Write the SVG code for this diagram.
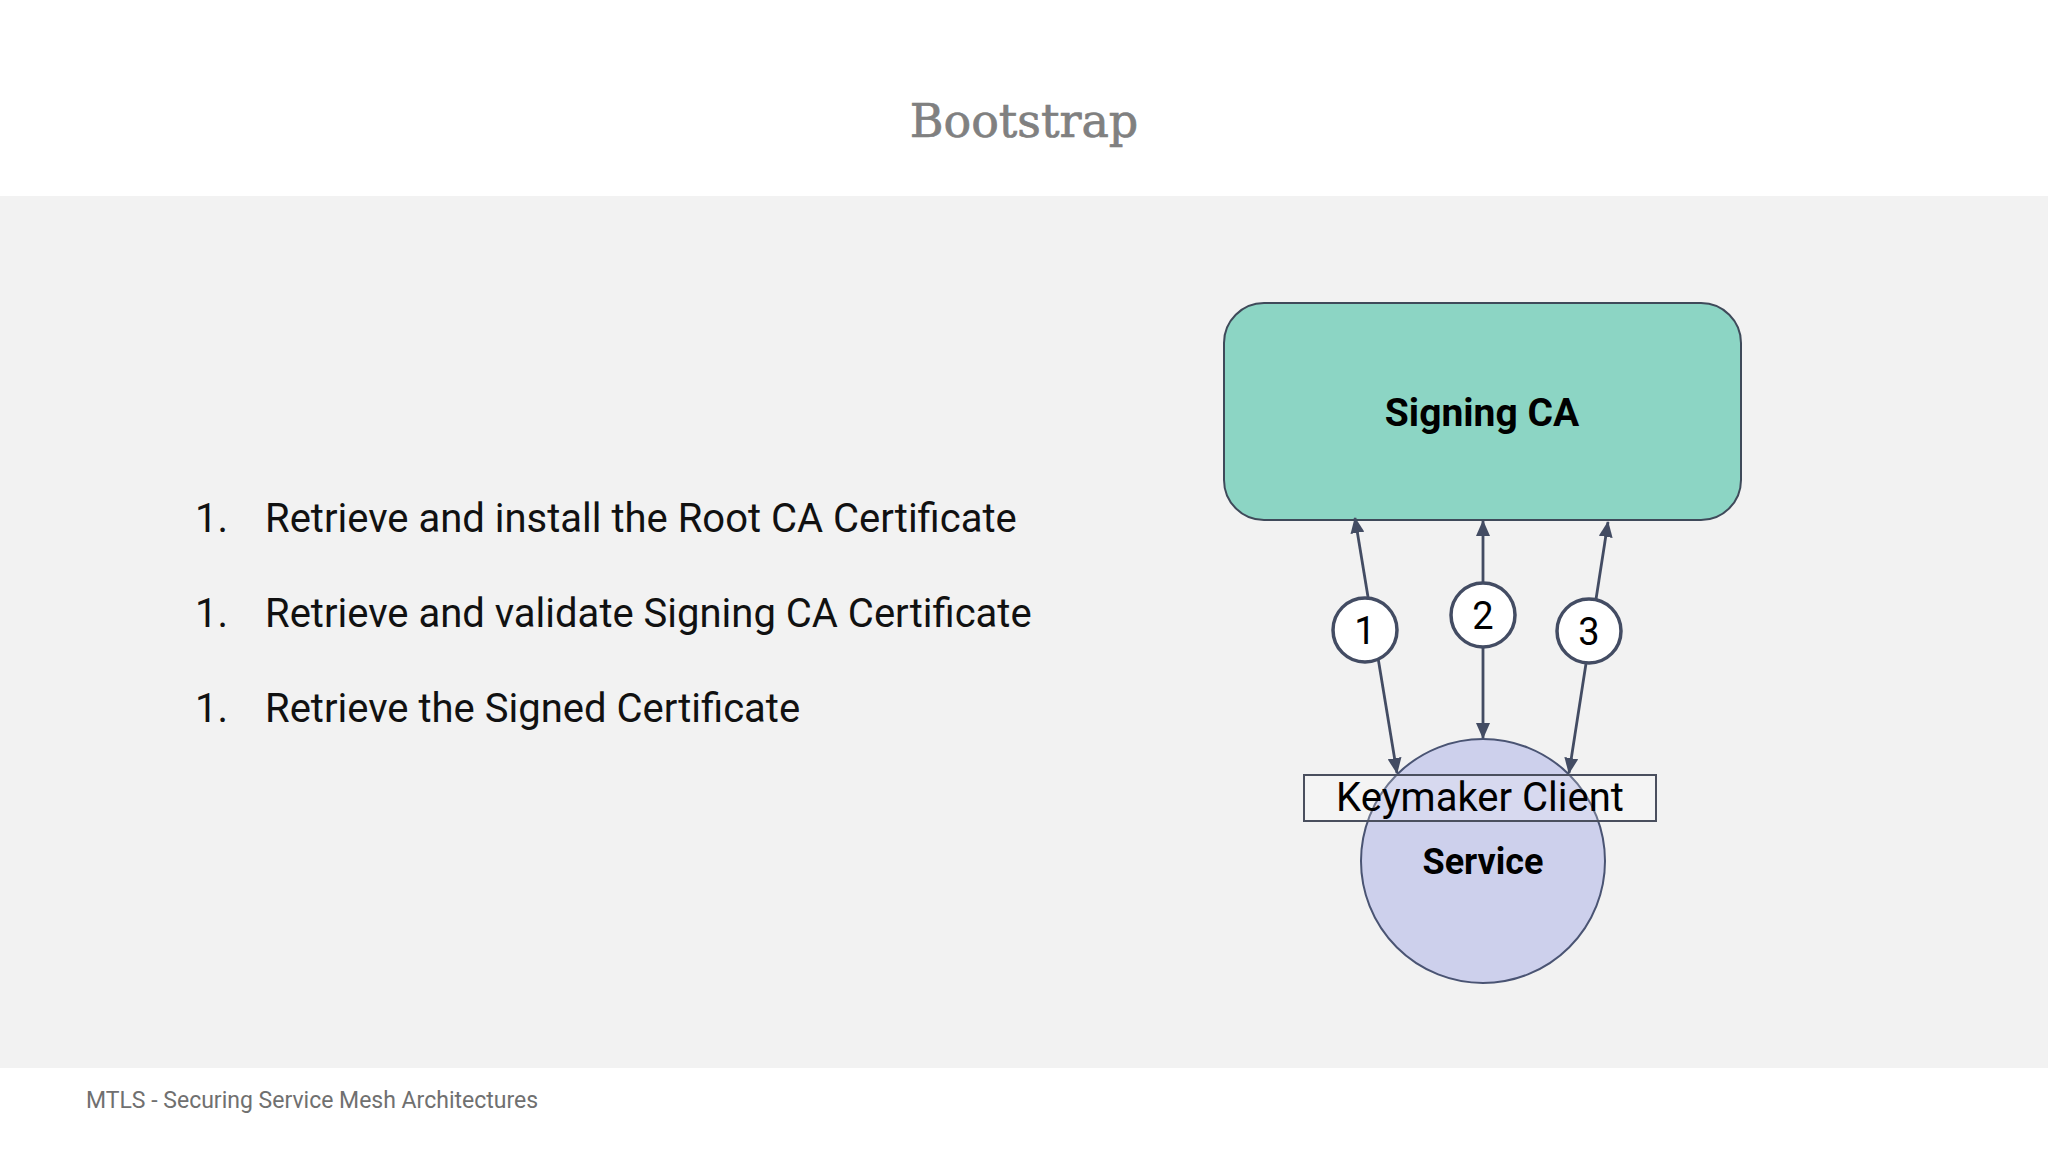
<svg xmlns="http://www.w3.org/2000/svg" width="2048" height="1152" viewBox="0 0 2048 1152">
<defs>
<style>
.title{font-family:"DejaVu Serif","Liberation Serif",serif;font-size:46px;fill:#808080;stroke:#808080;stroke-width:0.7}
.list{font-family:Roboto,"Liberation Sans",sans-serif;font-size:40px;fill:#111}
.footer{font-family:Roboto,"Liberation Sans",sans-serif;font-size:23px;fill:#707070}
.bold{font-family:Roboto,"Liberation Sans",sans-serif;font-weight:bold;fill:#000}
.reg{font-family:Roboto,"Liberation Sans",sans-serif;fill:#000}
.conn{stroke:#434c63;stroke-width:2.8;fill:none;marker-start:url(#ah);marker-end:url(#ah)}
.num{fill:#fff;stroke:#434c63;stroke-width:3.5}
</style>
<marker id="ah" viewBox="0 0 16 14" refX="15" refY="7" markerWidth="16" markerHeight="14" markerUnits="userSpaceOnUse" orient="auto-start-reverse">
<path d="M0,0 L16,7 L0,14 z" fill="#434c63"/>
</marker>
</defs>
<rect x="0" y="0" width="2048" height="1152" fill="#ffffff"/>
<rect x="0" y="196" width="2048" height="872" fill="#f2f2f2"/>
<text class="title" x="1024" y="137" text-anchor="middle">Bootstrap</text>

<g id="steps-list">
<text class="list" x="195" y="532">1.</text><text class="list" x="265" y="532">Retrieve and install the Root CA Certificate</text>
<text class="list" x="195" y="627">1.</text><text class="list" x="265" y="627">Retrieve and validate Signing CA Certificate</text>
<text class="list" x="195" y="722">1.</text><text class="list" x="265" y="722">Retrieve the Signed Certificate</text>
</g>

<g id="signing-ca">
<rect x="1224" y="303" width="517" height="217" rx="40" fill="#8cd5c4" stroke="#3f4a5a" stroke-width="2"/>
<text class="bold" x="1482" y="426" font-size="39" text-anchor="middle">Signing CA</text>
</g>

<g id="service">
<circle cx="1483" cy="861" r="122" fill="#cdd0ec" stroke="#4a5473" stroke-width="2"/>
<text class="bold" x="1483" y="874" font-size="36" text-anchor="middle">Service</text>
</g>

<g id="connectors">
<line class="conn" x1="1397" y1="773" x2="1355" y2="518"/>
<line class="conn" x1="1483" y1="738" x2="1483" y2="521"/>
<line class="conn" x1="1569" y1="773" x2="1608" y2="522"/>
</g>

<g id="keymaker-client">
<rect x="1304" y="775" width="352" height="46" fill="#ffffff" fill-opacity="0.2" stroke="#4a4f5e" stroke-width="2"/>
<text class="reg" x="1480" y="811" font-size="40" text-anchor="middle">Keymaker Client</text>
</g>

<g id="step-1">
<circle class="num" cx="1365" cy="630" r="32"/>
<text class="reg" x="1365" y="644" font-size="38" text-anchor="middle">1</text>
</g>
<g id="step-2">
<circle class="num" cx="1483" cy="615" r="32"/>
<text class="reg" x="1483" y="629" font-size="38" text-anchor="middle">2</text>
</g>
<g id="step-3">
<circle class="num" cx="1589" cy="631" r="32"/>
<text class="reg" x="1589" y="645" font-size="38" text-anchor="middle">3</text>
</g>

<text class="footer" x="86" y="1108">MTLS - Securing Service Mesh Architectures</text>
</svg>
